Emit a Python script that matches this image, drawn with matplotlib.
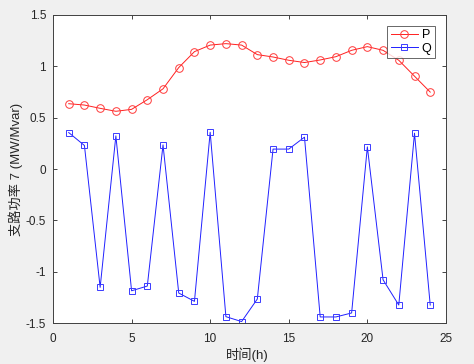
import numpy as np
import matplotlib
matplotlib.use("Agg")
import matplotlib.pyplot as plt

plt.rcParams['font.family'] = ['Liberation Sans', 'Noto Sans CJK SC', 'DejaVu Sans']

# hourly branch power
hours = list(range(1, 25))
p_vals = [0.636, 0.623, 0.591, 0.562, 0.581, 0.675, 0.781, 0.988, 1.143, 1.207,
          1.221, 1.207, 1.114, 1.091, 1.059, 1.037, 1.062, 1.094, 1.156, 1.192,
          1.156, 1.059, 0.904, 0.749]
q_vals = [0.355, 0.229, -1.153, 0.323, -1.186, -1.140, 0.235, -1.208, -1.289, 0.358,
          -1.438, -1.486, -1.266, 0.194, 0.194, 0.310, -1.441, -1.441, -1.402, 0.216,
          -1.079, -1.325, 0.349, -1.325]

x_ticks = [0, 5, 10, 15, 20, 25]
y_ticks = [-1.5, -1, -0.5, 0, 0.5, 1, 1.5]
y_tick_labels = ['-1.5', '-1', '-0.5', '0', '0.5', '1', '1.5']

fig = plt.figure(figsize=(4.74, 3.64), dpi=100, facecolor='#f0f0f0')
ax = fig.add_axes([0.1118, 0.1126, 0.829, 0.8462])
ax.set_facecolor('white')

ax.plot(hours, p_vals, '-o', color='#ff2020', lw=0.7, ms=5.5,
        mfc='none', mec='#ff3a3a', mew=0.7, label='P')
ax.plot(hours, q_vals, '-s', color='#2020ff', lw=0.7, ms=5,
        mfc='none', mec='#3a3aff', mew=0.7, label='Q')

ax.set_xlim(0, 25)
ax.set_ylim(-1.5, 1.5)
ax.set_xticks(x_ticks)
ax.set_yticks(y_ticks)
ax.set_yticklabels(y_tick_labels)

grey = '#262626'
for s in ax.spines.values():
    s.set_color('#404040')
    s.set_linewidth(0.7)
ax.tick_params(direction='in', top=True, right=True, length=3, width=0.6,
               colors=grey, labelsize=8.5)
ax.tick_params(axis='x', pad=7)
ax.tick_params(axis='y', pad=5)

ax.set_xlabel('时间(h)', fontsize=9.5, color=grey)
ax.set_ylabel('支路功率 7 (MW/Mvar)', fontsize=9.5, color=grey)
ax.xaxis.set_label_coords(0.495, -0.079)
ax.yaxis.set_label_coords(-0.077, 0.5)

leg = ax.legend(loc='upper right', fontsize=9, frameon=True, fancybox=False,
                handlelength=2.2, borderpad=0.3, labelspacing=0.1,
                handletextpad=0.3, borderaxespad=0.85)
leg.get_frame().set_edgecolor('#404040')
leg.get_frame().set_linewidth(0.7)

fig.savefig('out.png', dpi=100, facecolor=fig.get_facecolor())
